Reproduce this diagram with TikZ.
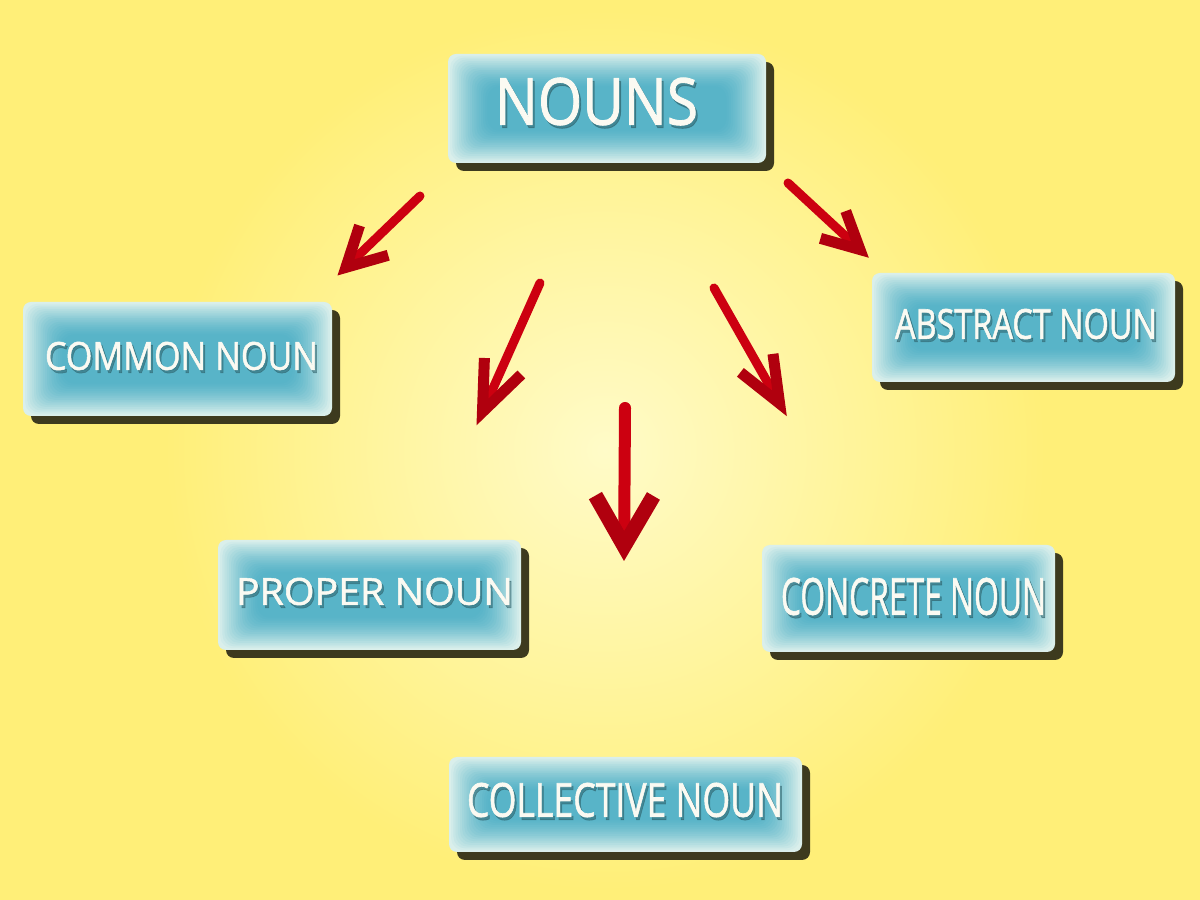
\documentclass[tikz,border=0pt]{standalone}
\usepackage{fontspec}
\setmainfont{Open Sans}
\newfontfamily\boxfont[FakeBold=1.4]{Open Sans}
\usetikzlibrary{calc,shadows}
\definecolor{bgy}{HTML}{FFEF78}
\definecolor{bgc}{HTML}{FFFBC8}
\definecolor{edgec}{HTML}{DAEFEB}
\definecolor{tealc}{HTML}{58B4C8}
\definecolor{shadc}{HTML}{3D3A1E}
\definecolor{arrc}{HTML}{CC0010}
\definecolor{arrd}{HTML}{B0000E}
\definecolor{txtw}{HTML}{FBFAF2}
\definecolor{txtsh}{HTML}{2A5A62}
\tikzset{
  box/.style={rectangle, rounded corners=8pt, inner sep=0pt, fill=edgec,
    drop shadow={shadow xshift=8pt, shadow yshift=-8pt, fill=shadc, opacity=1},
    path picture={
      \foreach \i in {1,...,18}{
        \pgfmathtruncatemacro\m{100*(1-(1-\i/18)^1.4)}
        \fill[tealc!\m!edgec, rounded corners=12pt]
          ([shift={(\i*2.2pt,\i*1.8pt)}]path picture bounding box.south west) rectangle
          ([shift={(-\i*2.2pt,-\i*1.8pt)}]path picture bounding box.north east);
      }
    }},
  txt/.style={inner sep=0pt, text=txtw, font=\boxfont},
  txtshadow/.style={inner sep=0pt, text=txtsh, opacity=0.5, font=\boxfont},
  shaft/.style={draw=arrc, line cap=round},
  head/.style={draw=arrd, line join=miter, line cap=butt}
}
\begin{document}
\begin{tikzpicture}[x=1pt,y=1pt]
\useasboundingbox (0,0) rectangle (1200,900);
\fill[bgy] (0,0) rectangle (1200,900);
\shade[inner color=bgc, outer color=bgy] (605,450) circle (440);

% boxes
\node[box, minimum width=318pt, minimum height=109pt] (nouns) at (607,791.5) {};
\node[box, minimum width=309pt, minimum height=114pt] (common) at (177.5,541) {};
\node[box, minimum width=303pt, minimum height=109pt] (abstract) at (1023.5,572.5) {};
\node[box, minimum width=303pt, minimum height=110pt] (proper) at (369.5,305) {};
\node[box, minimum width=293pt, minimum height=107pt] (concrete) at (908.5,301.5) {};
\node[box, minimum width=353pt, minimum height=95pt] (collective) at (625.5,95.5) {};

% text shadows
\node[txtshadow] (nounsS) at ([shift={(2pt,-3pt)}]596.5,798.5) {\resizebox{203pt}{47pt}{NOUNS}};
\node[txtshadow] (commonS) at ([shift={(2pt,-3pt)}]181.5,544) {\resizebox{273pt}{28pt}{COMMON NOUN}};
\node[txtshadow] (abstractS) at ([shift={(2pt,-3pt)}]1026,576) {\resizebox{262pt}{30pt}{ABSTRACT NOUN}};
\node[txtshadow] (properS) at ([shift={(2pt,-3pt)}]374.5,308.5) {\resizebox{277pt}{27pt}{PROPER NOUN}};
\node[txtshadow] (concreteS) at ([shift={(2pt,-3pt)}]913.5,303.5) {\resizebox{265pt}{37pt}{CONCRETE NOUN}};
\node[txtshadow] (collectiveS) at ([shift={(2pt,-3pt)}]625,100) {\resizebox{316pt}{34pt}{COLLECTIVE NOUN}};

% texts
\node[txt] (nounsT) at (596.5,798.5) {\resizebox{203pt}{47pt}{NOUNS}};
\node[txt] (commonT) at (181.5,544) {\resizebox{273pt}{28pt}{COMMON NOUN}};
\node[txt] (abstractT) at (1026,576) {\resizebox{262pt}{30pt}{ABSTRACT NOUN}};
\node[txt] (properT) at (374.5,308.5) {\resizebox{277pt}{27pt}{PROPER NOUN}};
\node[txt] (concreteT) at (913.5,303.5) {\resizebox{265pt}{37pt}{CONCRETE NOUN}};
\node[txt] (collectiveT) at (625,100) {\resizebox{316pt}{34pt}{COLLECTIVE NOUN}};

% arrows
\foreach \n/\tx/\ty/\hx/\hy/\w/\bw/\bl/\ba in {
  1/420/704/338/625/9/11/44/28,
  2/540/617/478/478/9/11/54/22,
  3/625/492/624/339/12/15/58/30,
  4/714/612/785/487/9/11/50/22,
  5/788/717/868/643/9/11/41/27}{
  \coordinate (t\n) at (\tx,\ty);
  \coordinate (h\n) at (\hx,\hy);
  \coordinate (v\n) at ($(h\n)!\bw pt!(t\n)$);
  \draw[shaft, line width=\w pt] (t\n) -- (v\n);
  \draw[head, line width=\bw pt] ($(v\n)!\bl pt!\ba:(t\n)$) -- (v\n) -- ($(v\n)!\bl pt!-\ba:(t\n)$);
}
\end{tikzpicture}
\end{document}
